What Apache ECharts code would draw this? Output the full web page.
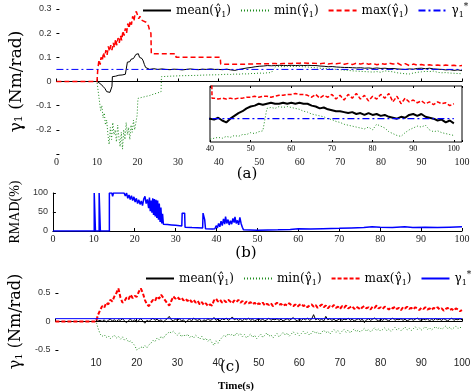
<!DOCTYPE html>
<html><head><meta charset="utf-8">
<script src="https://cdn.jsdelivr.net/npm/echarts@6/dist/echarts.min.js"></script>
<style>html,body{margin:0;padding:0;background:#fff}#c{width:474px;height:391px}</style>
</head><body><div id="c"></div>
<script>
// ---------- data ----------
const gammaRef = 0.05;
const refLine = [[0, gammaRef], [100, gammaRef]];

// Panel (a): [time, value] pairs up to ~40 s
const aMaxHead = [[0,0],[10,0],[10.2,.05],[10.5,.09],[10.8,.07],[11,.1],[11.3,.085],[11.6,.12],[11.9,.1],[12.2,.13],[12.5,.11],[12.8,.145],[13.1,.125],[13.4,.15],[13.7,.13],[14,.16],[14.3,.14],[14.6,.175],[14.9,.15],[15.2,.18],[15.5,.16],[15.8,.19],[16.1,.17],[16.4,.21],[16.7,.19],[17,.22],[17.3,.2],[17.6,.24],[17.9,.22],[18.2,.25],[18.5,.235],[18.8,.27],[19.1,.25],[19.4,.28],[19.7,.29],[20,.275],[20.3,.26],[20.6,.27],[20.9,.255],[21.2,.26],[21.5,.25],[21.8,.255],[22.1,.245],[22.4,.25],[22.7,.23],[23,.21],[23.3,.2],[23.4,.115],[29.4,.115],[29.5,.1],[40.4,.1],[40.5,.072]];
const aMeanHead = [[0,0],[10,0],[10.5,-.005],[11,-.012],[11.5,-.02],[12,-.03],[12.4,-.042],[12.8,-.047],[13.2,-.045],[13.5,-.04],[13.7,-.02],[13.8,.02],[14.2,.028],[14.6,.022],[15,.03],[15.4,.026],[15.8,.031],[16.2,.027],[16.6,.033],[17,.03],[17.3,.035],[17.5,.08],[17.8,.088],[18.1,.082],[18.4,.092],[18.7,.085],[19,.095],[19.3,.1],[19.6,.112],[19.9,.105],[20.2,.115],[20.5,.1],[20.8,.092],[21.1,.095],[21.4,.085],[21.7,.07],[22,.058],[22.4,.052],[23,.05],[24,.053],[25,.05],[26,.052],[27,.05],[28,.049],[29,.051],[30,.05],[31,.048],[32,.05],[33,.052],[34,.05],[35,.049],[36,.051],[37,.05],[38,.052],[39,.05],[40,.05]];
const aMinHead = [[0,0],[10,0],[10.3,-.04],[10.6,-.08],[10.9,-.12],[11.2,-.1],[11.5,-.15],[11.8,-.13],[12.1,-.18],[12.4,-.16],[12.7,-.22],[13,-.26],[13.3,-.19],[13.6,-.24],[13.9,-.17],[14.2,-.22],[14.5,-.2],[14.8,-.25],[15.1,-.18],[15.4,-.23],[15.7,-.27],[16,-.21],[16.3,-.28],[16.6,-.2],[16.9,-.24],[17.2,-.17],[17.5,-.22],[17.8,-.19],[18.1,-.24],[18.4,-.18],[18.7,-.21],[19,-.16],[19.3,-.2],[19.6,-.17],[19.9,-.14],[20.1,-.07],[21,-.066],[22,-.062],[23,-.058],[24,-.052],[25,-.047],[25.8,-.042],[25.9,.02],[28,.022],[31,.024],[34,.025],[37,.027],[40,.028]];
// Panel (a): 41..100 s, one value per second
const aTailStart = 41, aTailStep = 1;
const aMaxTail = [.072,.071,.072,.071,.072,.071,.072,.072,.073,.073,.074,.073,.074,.074,.073,.074,.075,.075,.076,.076,.077,.076,.076,.075,.073,.076,.072,.075,.073,.076,.071,.075,.07,.076,.072,.077,.071,.075,.069,.074,.071,.076,.072,.077,.068,.074,.066,.072,.068,.07,.067,.069,.066,.068,.065,.068,.066,.067,.064,.066];
const aMeanTail = [.049,.051,.048,.046,.05,.053,.056,.058,.061,.063,.064,.066,.065,.066,.067,.066,.066,.067,.066,.067,.066,.067,.066,.066,.064,.063,.061,.062,.06,.059,.058,.058,.057,.056,.057,.055,.056,.054,.056,.054,.055,.053,.054,.052,.051,.05,.052,.051,.054,.055,.053,.055,.052,.051,.05,.048,.049,.046,.048,.045];
const aMinTail = [.029,.03,.029,.031,.03,.032,.031,.033,.033,.035,.034,.036,.037,.061,.062,.061,.063,.062,.063,.062,.061,.06,.058,.057,.055,.054,.053,.052,.05,.049,.047,.046,.044,.043,.042,.041,.04,.039,.041,.038,.044,.042,.04,.036,.034,.032,.031,.035,.038,.04,.042,.041,.043,.038,.036,.037,.035,.034,.033,.032];

// Panel (b): RMAD (%) [time, value]
const rmad = [[0,0],[10.1,0],[10.1,100],[10.4,100],[10.4,0],[11.3,0],[11.3,100],[11.6,100],[11.6,0],[13.8,0],[13.8,100],[14.4,100],[14.6,91],[14.8,100],[17.4,100],[17.7,92],[18,100],[18.3,86],[18.6,95],[18.9,83],[19.2,93],[19.5,80],[19.8,90],[20.1,76],[20.4,86],[20.7,72],[21,82],[21.3,70],[21.6,79],[21.9,67],[22.2,84],[22.5,91],[22.8,72],[23.1,83],[23.4,60],[23.6,88],[23.8,52],[24,80],[24.2,48],[24.4,86],[24.6,42],[24.8,84],[25,38],[25.2,82],[25.4,34],[25.6,80],[25.8,30],[26,72],[26.2,24],[26.4,62],[26.6,20],[26.8,45],[27,18],[28,17],[29,16],[30,15],[31.5,13],[31.6,47],[32.2,47],[32.3,10],[34,9],[36.6,8],[36.7,47],[37.1,30],[37.3,6],[39,5],[39.6,6],[39.9,14],[40.2,8],[40.5,20],[40.8,11],[41.1,26],[41.4,14],[41.7,32],[42,18],[42.2,38],[42.5,20],[42.8,30],[43.1,16],[43.4,27],[43.7,18],[44,33],[44.3,22],[44.5,37],[44.8,20],[45.1,28],[45.4,16],[45.7,36],[46,20],[46.3,10],[46.6,3],[50,2],[55,3],[58,4],[60,6],[63,5],[66,6],[70,7],[73,8],[76,9],[78,11],[80,10],[83,9],[86,11],[88,9],[91,10],[94,9],[97,10],[100,11]];

// Panel (c): samples every 0.5 s from 10 s to 100 s
const cStart = 10, cStep = 0.5;
const cMax = [0,.12,.2,.27,.24,.33,.3,.38,.35,.44,
 .5,.58,.42,.33,.36,.42,.39,.47,.41,.45,
 .43,.52,.58,.5,.38,.3,.27,.33,.38,.36,
 .44,.4,.47,.42,.37,.32,.28,.36,.44,.4,
 .43,.39,.42,.37,.4,.36,.39,.34,.38,.33,
 .36,.3,.34,.29,.32,.27,.3,.28,.37,.4,
 .35,.38,.33,.37,.34,.38,.35,.32,.37,.34,
 .38,.33,.36,.31,.35,.32,.34,.3,.33,.29,
 .32,.3,.33,.28,.31,.29,.32,.27,.3,.33,
 .29,.31,.27,.3,.28,.32,.29,.27,.3,.26,
 .29,.31,.27,.29,.25,.28,.3,.26,.29,.24,
 .27,.3,.25,.28,.23,.27,.25,.29,.24,.26,
 .22,.27,.24,.28,.23,.25,.27,.22,.26,.24,
 .21,.25,.27,.23,.25,.21,.26,.24,.28,.23,
 .25,.22,.26,.24,.21,.25,.23,.26,.22,.24,
 .2,.25,.23,.26,.22,.24,.21,.25,.23,.2,
 .24,.22,.25,.21,.23,.2,.24,.22,.25,.21,
 .23,.19,.22,.24,.2,.22,.19,.23,.21,.18,
 .2];
const cMean = [0,.01,.02,0,.03,-.01,.02,.04,.01,.03,
 0,.03,.02,.05,.01,-.02,.02,.04,0,.03,
 -.01,.02,.05,.01,-.03,.02,0,.03,.06,.02,
 .04,.01,.03,-.01,.02,.05,.09,.03,.01,.04,
 .02,.05,.01,.03,-.02,.02,.04,.01,.06,.03,
 .02,.04,-.01,.03,.01,.05,.02,.03,.07,.02,
 .04,.01,.05,.03,.06,.02,.04,.08,.03,.05,
 .02,.04,.01,.05,.03,.06,.02,.04,.01,.03,
 .05,.02,.04,.01,.03,.06,.02,.04,.03,.05,
 .02,.04,.01,.03,.05,.02,.04,.07,.03,.01,
 .04,.02,.05,.03,.06,.02,.04,.12,.03,.05,
 .02,.04,.01,.09,.03,.05,.02,.04,.01,.03,
 .05,.02,.04,.03,.06,.02,.04,.01,.03,.05,
 .02,.04,-.02,.03,.05,.02,.04,.06,.03,.01,
 .04,.02,.05,.03,.01,.04,.06,.02,.04,.03,
 .05,.02,.04,.01,.03,.05,.02,.04,.06,.03,
 .02,.04,.03,.05,.01,.04,.02,.05,.03,.04,
 .02,.05,.03,.01,.04,.06,.02,.04,.03,.05,
 .03];
const cMin = [0,-.12,-.22,-.26,-.23,-.28,-.25,-.3,-.27,-.24,
 -.29,-.26,-.31,-.27,-.33,-.3,-.36,-.34,-.38,-.42,
 -.5,-.48,-.44,-.47,-.42,-.46,-.41,-.38,-.33,-.35,
 -.29,-.32,-.26,-.3,-.24,-.22,-.18,-.2,-.17,-.21,
 -.24,-.2,-.27,-.23,-.26,-.22,-.28,-.25,-.29,-.24,
 -.27,-.31,-.26,-.33,-.29,-.35,-.31,-.37,-.42,-.34,
 -.38,-.32,-.28,-.24,-.27,-.21,-.25,-.22,-.26,-.2,
 -.24,-.21,-.27,-.23,-.29,-.25,-.22,-.28,-.24,-.3,
 -.26,-.22,-.28,-.24,-.2,-.26,-.23,-.29,-.25,-.21,
 -.27,-.23,-.19,-.24,-.2,-.26,-.22,-.18,-.23,-.2,
 -.25,-.21,-.17,-.22,-.19,-.24,-.2,-.16,-.21,-.18,
 -.23,-.19,-.15,-.2,-.17,-.22,-.18,-.14,-.19,-.16,
 -.21,-.17,-.14,-.19,-.15,-.2,-.16,-.13,-.18,-.15,
 -.19,-.15,-.12,-.17,-.14,-.18,-.15,-.11,-.16,-.13,
 -.17,-.14,-.11,-.16,-.13,-.17,-.14,-.1,-.15,-.12,
 -.16,-.13,-.1,-.15,-.12,-.16,-.13,-.09,-.14,-.11,
 -.15,-.12,-.09,-.14,-.11,-.15,-.12,-.09,-.13,-.1,
 -.14,-.11,-.08,-.13,-.1,-.14,-.11,-.08,-.12,-.1,
 -.12];

const legendText = {
  aMean: '{t|mean(\u03B3\u0302}{s|1}{t|)}', aMin: '{t|min(\u03B3\u0302}{s|1}{t|)}',
  aMax: '{t|max(\u03B3\u0302}{s|1}{t|)}', aRef: '{t|\u03B3}{s|1}{p|*}',
  cMean: '{t|mean(\u03B3\u0302}{s|1}{t|)}', cMin: '{t|min(\u03B3\u0302}{s|1}{t|)}',
  cMax: '{t|max(\u03B3\u0302}{s|1}{t|)}', cRef: '{t|\u03B3}{s|1}{p|*}'
};

// ---------- build ----------
const seq = (arr, t0, dt) => arr.map((v, i) => [t0 + i * dt, v]);
const aMax = aMaxHead.concat(seq(aMaxTail, aTailStart, aTailStep));
const aMean = aMeanHead.concat(seq(aMeanTail, aTailStart, aTailStep));
const aMin = aMinHead.concat(seq(aMinTail, aTailStart, aTailStep));
const cMaxD = [[0, 0]].concat(seq(cMax, cStart, cStep));
const cMeanD = [[0, 0]].concat(seq(cMean, cStart, cStep));
const cMinD = [[0, 0]].concat(seq(cMin, cStart, cStep));

const RED = '#ff0000', GRN = '#1e8c1e', BLK = '#000000', BLU = '#0000ff';
const SERIF = '"DejaVu Serif"';
const DOT = [1, 2], DASH = [5, 3], DASHDOT = [7, 3, 2, 3];

const tickInside = { show: true, inside: true, length: 3, lineStyle: { color: '#000' } };
const axLine = { show: true, lineStyle: { color: '#000', width: 1 } };
const lblX = { fontSize: 10, fontFamily: '"Liberation Serif"', color: '#222', margin: 3 };
const lblY = { fontSize: 9, fontFamily: '"Liberation Sans"', color: '#333', margin: 5 };
const legendRich = {
  t: { fontSize: 12, fontFamily: SERIF, color: '#000', lineHeight: 17 },
  s: { fontSize: 8, fontFamily: SERIF, color: '#000', verticalAlign: 'bottom', lineHeight: 17 },
  p: { fontSize: 9, fontFamily: SERIF, color: '#000', verticalAlign: 'top', lineHeight: 17 }
};
const nameRich = (fs) => ({
  g: { fontSize: fs, fontFamily: SERIF, color: '#000' },
  s: { fontSize: Math.round(fs * 0.65), fontFamily: SERIF, color: '#000', verticalAlign: 'bottom' }
});
const legendBase = {
  itemWidth: 28, itemHeight: 10, itemGap: 9, padding: 0, width: 340,
  formatter: n => legendText[n], textStyle: { rich: legendRich }, selectedMode: false,
  itemStyle: { opacity: 0, borderWidth: 0 }
};

function line(name, data, color, width, type, xi, yi, extra) {
  return Object.assign({
    type: 'line', name, data, xAxisIndex: xi, yAxisIndex: yi,
    symbol: 'none', showSymbol: false, animation: false, silent: true,
    lineStyle: { color, width, type }, itemStyle: { color }
  }, extra || {});
}

const chart = echarts.init(document.getElementById('c'), null, { renderer: 'canvas' });
chart.setOption({
  animation: false,
  backgroundColor: '#fff',
  grid: [
    { left: 44, top: 9, width: 418, height: 145 },
    { left: 210, top: 86, width: 252, height: 56, show: true, borderColor: '#000', borderWidth: 1, backgroundColor: '#fff', z: 3 },
    { left: 44, top: 193, width: 418, height: 38 },
    { left: 44, top: 293, width: 418, height: 57 }
  ],
  xAxis: [
    { type: 'value', gridIndex: 0, min: 0, max: 100, interval: 10, axisLine: axLine, axisTick: tickInside, splitLine: { show: false }, axisLabel: lblX },
    { type: 'value', gridIndex: 1, min: 40, max: 102, interval: 10, z: 5, axisLine: { show: false }, axisTick: { show: true, inside: true, length: 2, lineStyle: { color: '#000' } }, splitLine: { show: false },
      axisLabel: { fontSize: 8, fontFamily: '"Liberation Serif"', color: '#000', margin: 3, formatter: v => (v > 100 ? '' : String(v)) } },
    { type: 'value', gridIndex: 1, position: 'top', min: 40, max: 102, interval: 10, z: 5, axisLine: { show: false }, axisTick: { show: true, inside: true, length: 2, lineStyle: { color: '#000' } }, splitLine: { show: false }, axisLabel: { show: false } },
    { type: 'value', gridIndex: 2, min: 0, max: 100, interval: 10, axisLine: axLine, axisTick: tickInside, splitLine: { show: false }, axisLabel: lblX },
    { type: 'value', gridIndex: 3, min: 0, max: 100, interval: 10, offset: 5, axisLine: axLine, axisTick: tickInside, splitLine: { show: false },
      axisLabel: Object.assign({}, lblX, { fontFamily: '"Liberation Sans"', formatter: v => (v === 0 ? '' : String(v)) }) }
  ],
  yAxis: [
    { type: 'value', gridIndex: 0, min: -0.3, max: 0.3, interval: 0.1, axisLine: { show: false }, axisTick: tickInside, splitLine: { show: false },
      axisLabel: Object.assign({}, lblY, { formatter: v => (v < -0.25 ? '' : String(Math.round(v * 10) / 10)) }),
      name: '{g|\u03B3}{s|1}{g| (Nm/rad)}', nameLocation: 'middle', nameGap: 24, nameTextStyle: { rich: nameRich(17) } },
    { type: 'value', gridIndex: 1, min: 0.025, max: 0.085, axisLine: { show: false }, axisTick: { show: false }, axisLabel: { show: false }, splitLine: { show: false } },
    { type: 'value', gridIndex: 2, min: 0, max: 100, interval: 50, axisLine: axLine, axisTick: tickInside, splitLine: { show: false }, axisLabel: lblY,
      name: 'RMAD(%)', nameLocation: 'middle', nameGap: 25, nameTextStyle: { fontSize: 14, fontFamily: '"Liberation Serif"', color: '#000' } },
    { type: 'value', gridIndex: 3, min: -0.5, max: 0.5, interval: 0.5, axisLine: { show: false }, axisTick: tickInside, splitLine: { show: false }, axisLabel: lblY,
      name: '{g|\u03B3}{s|1}{g| (Nm/rad)}', nameLocation: 'middle', nameGap: 24, nameTextStyle: { rich: nameRich(16) } }
  ],
  legend: [
    Object.assign({ data: ['aMean', 'aMin', 'aMax', 'aRef'], left: 142, top: 2 }, legendBase),
    Object.assign({ data: ['cMean', 'cMin', 'cMax', 'cRef'], left: 145, top: 270 }, legendBase)
  ],
  graphic: [
    { type: 'text', x: 247, y: 174, style: { text: '(a)', font: '15px "DejaVu Serif"', fill: '#000', align: 'center', verticalAlign: 'middle', textAlign: 'center', textVerticalAlign: 'middle' } },
    { type: 'text', x: 246, y: 253, style: { text: '(b)', font: '15px "DejaVu Serif"', fill: '#000', align: 'center', verticalAlign: 'middle', textAlign: 'center', textVerticalAlign: 'middle' } },
    { type: 'text', x: 230, y: 367, style: { text: '(c)', font: '15px "DejaVu Serif"', fill: '#000', align: 'center', verticalAlign: 'middle', textAlign: 'center', textVerticalAlign: 'middle' } },
    { type: 'text', x: 236, y: 386, style: { text: 'Time(s)', font: 'bold 11px "Liberation Serif"', fill: '#000', align: 'center', verticalAlign: 'middle', textAlign: 'center', textVerticalAlign: 'middle' } }
  ],
  series: [
    // panel (a)
    line('aMin', aMin, GRN, 1, DOT, 0, 0),
    line('aMean', aMean, BLK, 1, 'solid', 0, 0),
    line('aMax', aMax, RED, 1.5, DASH, 0, 0),
    line('aRef', refLine, BLU, 1, DASHDOT, 0, 0),
    // inset
    line('iMin', aMin, GRN, 1, DOT, 1, 1, { z: 4 }),
    line('iMean', aMean, BLK, 2, 'solid', 1, 1, { z: 4 }),
    line('iMax', aMax, RED, 1.5, [4, 2], 1, 1, { z: 4 }),
    line('iRef', refLine, BLU, 1.2, DASHDOT, 1, 1, { z: 4 }),
    // panel (b)
    line('rmad', rmad, BLU, 1.5, 'solid', 3, 2),
    // panel (c)
    line('cMin', cMinD, GRN, 1, DOT, 4, 3, { clip: false }),
    line('cMean', cMeanD, BLK, 1, 'solid', 4, 3, { clip: false }),
    line('cMax', cMaxD, RED, 2, [4, 2], 4, 3, { clip: false }),
    line('cRef', refLine, BLU, 1, 'solid', 4, 3, { clip: false })
  ]
});
</script></body></html>
